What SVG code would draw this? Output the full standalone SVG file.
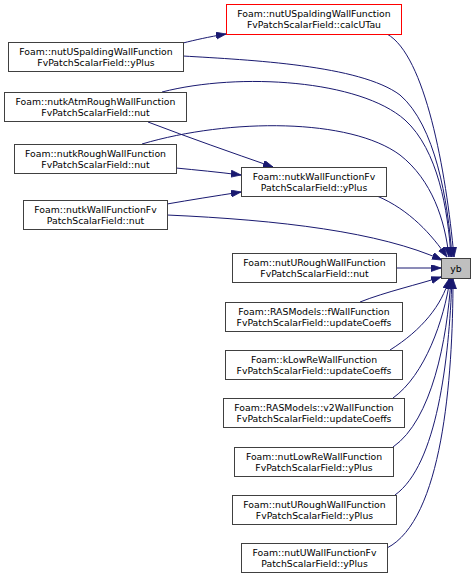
<svg xmlns="http://www.w3.org/2000/svg" width="474" height="578" viewBox="0 0 474 578">
<defs>
<marker id="arr" markerUnits="userSpaceOnUse" markerWidth="11" markerHeight="8" refX="10" refY="3.5" orient="auto">
<path d="M0,0 L10,3.5 L0,7 z" fill="#191970" stroke="#191970" stroke-width="0.8"/>
</marker>
<style>
.n rect{fill:#ffffff;stroke:#404040;stroke-width:1}
.n text{font-family:"DejaVu Sans","Liberation Sans",sans-serif;font-size:9.3px;fill:#000000;text-anchor:middle}
#edges path{fill:none;stroke:#191970;stroke-width:1;marker-end:url(#arr)}
</style>
</defs>
<rect width="474" height="578" fill="#ffffff"/>
<g id="edges">
<path d="M183,43 C195,40 208,37 226,34"/>
<path d="M387,34 C425,55 446,170 454,257"/>
<path d="M183,56 C250,60 360,65 400,95 C435,125 448,200 452,257"/>
<path d="M162,92 C240,72 360,80 405,120 C438,150 448,210 451,257"/>
<path d="M148,122 C190,138 230,152 273,167"/>
<path d="M142,144 C230,118 350,118 400,155 C432,180 445,220 449,257"/>
<path d="M176,168 C196,170 218,172 241,175"/>
<path d="M167,204 C190,200 215,196 241,192"/>
<path d="M377,196 C410,210 432,235 447,257"/>
<path d="M167,215 C280,220 380,232 442,260"/>
<path d="M396,268 L441,268"/>
<path d="M360,302 C385,292 420,284 441,277"/>
<path d="M390,350 C422,330 442,305 449,279"/>
<path d="M393,398 C425,375 444,320 450,279"/>
<path d="M393,447 C432,420 447,340 451,279"/>
<path d="M395,495 C437,465 449,360 452,279"/>
<path d="M387,548 C442,520 453,380 453,279"/>
</g>
<g id="yb" class="n">
<rect x="441.5" y="258.5" width="29" height="20" style="fill:#bfbfbf"/>
<text x="456" y="272">yb</text>
</g>
<g id="calcUTau" class="n">
<rect x="226.5" y="4.5" width="175" height="30" style="stroke:#ff0000"/>
<text x="314" y="17">Foam::nutUSpaldingWallFunction</text>
<text x="314" y="28">FvPatchScalarField::calcUTau</text>
</g>
<g id="spaldingYPlus" class="n">
<rect x="8.5" y="42.5" width="175" height="29"/>
<text x="96" y="55">Foam::nutUSpaldingWallFunction</text>
<text x="96" y="66">FvPatchScalarField::yPlus</text>
</g>
<g id="atmRoughNut" class="n">
<rect x="4.5" y="92.5" width="182" height="29"/>
<text x="95.5" y="105">Foam::nutkAtmRoughWallFunction</text>
<text x="95.5" y="116">FvPatchScalarField::nut</text>
</g>
<g id="kRoughNut" class="n">
<rect x="14.5" y="144.5" width="162" height="29"/>
<text x="95.5" y="157">Foam::nutkRoughWallFunction</text>
<text x="95.5" y="168">FvPatchScalarField::nut</text>
</g>
<g id="kWallYPlus" class="n">
<rect x="241.5" y="167.5" width="145" height="29"/>
<text x="314" y="180">Foam::nutkWallFunctionFv</text>
<text x="314" y="191">PatchScalarField::yPlus</text>
</g>
<g id="kWallNut" class="n">
<rect x="23.5" y="200.5" width="144" height="29"/>
<text x="95.5" y="213">Foam::nutkWallFunctionFv</text>
<text x="95.5" y="224">PatchScalarField::nut</text>
</g>
<g id="uRoughNut" class="n">
<rect x="232.5" y="253.5" width="164" height="29"/>
<text x="314.5" y="266">Foam::nutURoughWallFunction</text>
<text x="314.5" y="277">FvPatchScalarField::nut</text>
</g>
<g id="fWall" class="n">
<rect x="225.5" y="302.5" width="177" height="29"/>
<text x="314" y="315">Foam::RASModels::fWallFunction</text>
<text x="314" y="326">FvPatchScalarField::updateCoeffs</text>
</g>
<g id="kLowRe" class="n">
<rect x="225.5" y="350.5" width="177" height="29"/>
<text x="314" y="363">Foam::kLowReWallFunction</text>
<text x="314" y="374">FvPatchScalarField::updateCoeffs</text>
</g>
<g id="v2Wall" class="n">
<rect x="223.5" y="398.5" width="181" height="29"/>
<text x="314" y="411">Foam::RASModels::v2WallFunction</text>
<text x="314" y="422">FvPatchScalarField::updateCoeffs</text>
</g>
<g id="lowReYPlus" class="n">
<rect x="234.5" y="447.5" width="159" height="29"/>
<text x="314" y="460">Foam::nutLowReWallFunction</text>
<text x="314" y="471">FvPatchScalarField::yPlus</text>
</g>
<g id="uRoughYPlus" class="n">
<rect x="232.5" y="495.5" width="164" height="29"/>
<text x="314.5" y="508">Foam::nutURoughWallFunction</text>
<text x="314.5" y="519">FvPatchScalarField::yPlus</text>
</g>
<g id="uWallYPlus" class="n">
<rect x="241.5" y="543.5" width="146" height="29"/>
<text x="314.5" y="556">Foam::nutUWallFunctionFv</text>
<text x="314.5" y="567">PatchScalarField::yPlus</text>
</g>
</svg>
